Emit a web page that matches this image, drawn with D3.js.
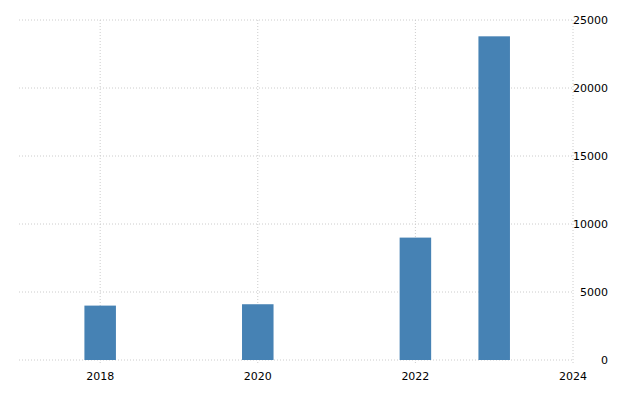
<!DOCTYPE html><html><head><meta charset="utf-8"><script src="https://d3js.org/d3.v7.min.js"></script>
<style>body{margin:0;background:#fff}text{font-family:"DejaVu Sans",sans-serif;font-size:11px;fill:#000}</style></head><body><svg width="640" height="400"></svg><script>
const years=[2018,2020,2022,2023];
const values=[4000,4100,9000,23800];
const xTicks=[2018,2020,2022,2024];
const yTicks=[0,5000,10000,15000,20000,25000];
const svg=d3.select("svg");
const x=d3.scaleLinear().domain([2016.97,2024]).range([19,573]);
const y=d3.scaleLinear().domain([0,25000]).range([360,20]);
const bw=x(2018.4)-x(2018);
const g=svg.append("g");
yTicks.forEach(t=>{g.append("line").attr("x1",19).attr("x2",573).attr("y1",y(t)).attr("y2",y(t)).attr("stroke","#ccc").attr("stroke-dasharray","1,2");});
xTicks.forEach(t=>{g.append("line").attr("x1",x(t)).attr("x2",x(t)).attr("y1",20).attr("y2",364).attr("stroke","#ccc").attr("stroke-dasharray","1,2");});
svg.selectAll("rect").data(years).join("rect").attr("x",d=>x(d)-bw/2).attr("width",bw).attr("y",(d,i)=>y(values[i])).attr("height",(d,i)=>360-y(values[i])).attr("fill","#4682b4");
svg.append("g").selectAll("text").data(xTicks).join("text").attr("x",d=>x(d)).attr("y",380).attr("text-anchor","middle").text(d=>d);
svg.append("g").selectAll("text").data(yTicks).join("text").attr("x",608).attr("y",d=>y(d)+4).attr("text-anchor","end").text(d=>d);
</script></body></html>
